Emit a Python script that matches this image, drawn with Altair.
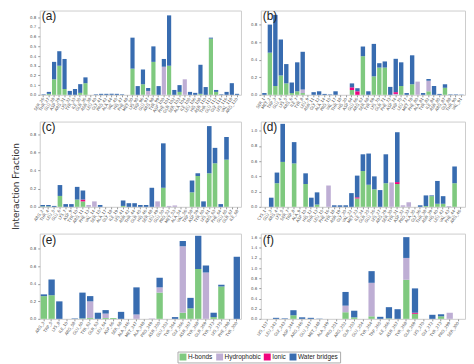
import altair as alt
import pandas as pd

TYPES = ["H-bonds", "Hydrophobic", "Ionic", "Water bridges"]
COLORS = ["#7fc97f", "#beaed4", "#f0027f", "#386cb0"]

# ---------------- panel (a) ----------------
a_res = ["SER_26", "THR_27", "GLU_28", "ASP_29", "ARG_31", "LYS_32", "TYR_33", "ILE_35", "GLN_36", "ASN_38",
         "LEU_40", "GLY_41", "PRO_42", "ALA_44", "VAL_45", "HIS_47", "PHE_48", "MET_50", "LYS_95", "TRP_96",
         "GLU_97", "ARG_98", "TYR_99", "ASP_100", "PHE_101", "GLN_102", "SER_103", "ALA_104", "ILE_105", "LEU_106",
         "HIS_108", "ASN_110", "THR_112", "GLU_113", "GLY_114", "LYS_116", "VAL_118", "ARG_120"]
a_hb = [0, .01, .16, .30, .06, 0, 0, .02, .12, 0,
        0, 0, 0, 0, 0, 0, 0, .27, 0, .11,
        0, .34, 0, 0, .30, 0, .03, 0, 0, 0,
        .01, 0, .58, .03, 0, 0, 0, 0]
a_hy = [0, 0, 0, 0, 0, 0, 0, 0, 0, 0,
        0, 0, 0, 0, 0, 0, 0, 0, 0, 0,
        .04, 0, 0, .29, 0, 0, 0, .16, 0, 0,
        0, 0, 0, 0, 0, 0, 0, 0]
a_io = [0] * 38
a_wb = [.005, .02, .18, .15, .31, .04, .06, .09, .06, 0,
        .005, .01, .01, .01, .01, .005, 0, .32, .09, .15,
        .03, .16, .09, .08, .52, .05, .07, 0, .03, .02,
        .30, .08, .01, .02, .005, .03, .12, .01]

# ---------------- panel (b) ----------------
b_res = ["SER_1", "MET_2", "TRP_3", "GLU_4", "LYS_5", "ARG_6", "ILE_7", "TYR_8", "LEU_9", "ASN_11",
         "GLY_12", "ALA_14", "PRO_15", "VAL_17", "THR_18", "HIS_20", "ASP_64", "GLU_66", "ARG_67", "SER_68",
         "TYR_69", "LYS_70", "GLN_71", "PHE_73", "ASP_74", "TRP_75", "LEU_77", "MET_78", "PHE_80", "ALA_81",
         "TYR_82", "ILE_84", "ASN_85", "ARG_87", "GLY_88", "THR_90", "VAL_91"]
b_hb = [0, .48, .10, .22, .13, .02, .04, .02, 0, 0,
        0, 0, 0, 0, 0, 0, .055, 0, .44, 0,
        .21, .31, .31, 0, 0, .10, 0, .12, 0, 0,
        .04, 0, 0, .08, 0, 0, 0]
b_hy = [0, 0, 0, 0, 0, 0, 0, .04, 0, 0,
        0, 0, 0, 0, 0, 0, 0, 0, 0, 0,
        0, 0, 0, 0, .01, 0, 0, 0, .15, 0,
        .12, 0, 0, 0, 0, 0, 0]
b_io = [0, 0, 0, 0, 0, 0, 0, 0, 0, 0,
        0, 0, 0, 0, 0, 0, .03, .04, 0, 0,
        0, 0, 0, 0, .02, 0, 0, 0, 0, 0,
        0, 0, 0, 0, 0, 0, 0]
b_wb = [.02, .32, .81, .41, .22, .12, .33, .43, 0, .03,
        .04, .01, .005, .04, 0, 0, .045, .035, .11, .04,
        .37, .05, .07, .09, .38, .27, .02, .33, 0, .02,
        .02, .10, .01, .04, .005, .005, .003]

# ---------------- panel (c) ----------------
c_res = ["ARG_2", "THR_4", "LEU_5", "GLU_6", "LYS_7", "ASP_9", "TYR_10", "ARG_11", "PHE_13", "VAL_14",
         "SER_15", "ALA_17", "GLY_18", "ILE_19", "LYS_41", "ASN_42", "THR_44", "GLN_45", "HIS_46", "SER_48",
         "LEU_49", "GLU_50", "PRO_52", "MET_53", "ALA_54", "VAL_56", "TRP_58", "ASP_59", "TYR_60", "LYS_61",
         "ARG_63", "PHE_64", "GLU_65", "GLN_67", "ILE_68"]
c_hb = [.005, .005, 0, .12, 0, 0, .08, .06, 0, 0,
        0, 0, 0, 0, .01, 0, 0, 0, 0, 0,
        0, .21, 0, 0, 0, 0, .16, .34, 0, .37,
        .48, 0, .52, 0, 0]
c_hy = [0, 0, 0, 0, 0, 0, 0, 0, .02, .06,
        0, 0, 0, 0, 0, 0, 0, 0, 0, 0,
        .06, 0, .01, .015, 0, 0, 0, 0, 0, 0,
        0, 0, 0, 0, 0]
c_io = [0, 0, 0, 0, 0, 0, 0, .02, 0, 0,
        0, 0, 0, 0, 0, 0, 0, 0, 0, 0,
        0, 0, 0, 0, 0, 0, 0, 0, 0, 0,
        0, 0, 0, 0, 0]
c_wb = [.015, .015, .01, .12, .03, .03, .14, .10, 0, 0,
        .02, 0, 0, 0, .06, .04, .04, .02, .02, .21,
        0, .49, 0, 0, 0, 0, .13, .03, .06, .52,
        .17, .03, .25, 0, 0]

# ---------------- panel (d) ----------------
d_res = ["CYS_1", "GLU_3", "ARG_4", "LYS_5", "SER_7", "TRP_8", "ALA_9", "ASP_10", "HIS_12", "THR_13",
         "LEU_15", "PHE_16", "TYR_18", "ASN_19", "GLY_20", "VAL_22", "MET_23", "ILE_24", "GLN_25", "GLU_26",
         "LYS_27", "ARG_29", "SER_30", "TYR_31", "ASP_32", "PRO_33", "ALA_35", "GLY_36", "THR_38", "ASN_39",
         "HIS_40", "LEU_42", "VAL_43", "PHE_44", "ARG_46"]
d_hb = [0, 0, .31, .59, 0, .57, 0, .30, 0, .03,
        0, 0, 0, 0, 0, 0, .11, .47, .29, .23,
        0, .31, 0, .30, 0, 0, 0, 0, .01, .14,
        .04, .04, 0, .31, 0]
d_hy = [0, 0, 0, 0, 0, 0, 0, 0, 0, 0,
        0, .28, 0, 0, 0, 0, 0, 0, 0, 0,
        0, 0, .32, 0, .02, .06, 0, 0, 0, 0,
        0, 0, .01, 0, 0]
d_io = [0, 0, 0, 0, 0, 0, 0, 0, 0, 0,
        0, 0, 0, 0, 0, 0, .015, 0, 0, 0,
        0, 0, 0, .025, 0, 0, 0, 0, 0, 0,
        0, 0, 0, 0, 0]
d_wb = [0, .12, .14, .50, 0, .28, 0, .14, .12, .16,
        0, 0, .02, .02, .02, .18, .285, .22, .41, .17,
        .22, .38, 0, .655, 0, 0, 0, .02, .14, .01,
        .30, .10, 0, .22, 0]

# ---------------- panel (e) ----------------
e_res = ["ARG_3", "TRP_5", "LYS_8", "ILE_10", "ARG_58", "GLU_60", "TYR_62", "GLN_63", "LEU_64", "ASP_66",
         "SER_68", "ALA_246", "MET_247", "ALA_248", "PRO_249", "ASN_250", "GLU_252", "TYR_264", "GLY_266",
         "ASN_267", "TYR_268", "GLN_269", "TYR_273", "LYS_275", "PHE_298", "TYR_300"]
e_hb = [.26, .27, 0, 0, 0, .005, .01, 0, .01, .01,
        0, 0, 0, 0, 0, .30, 0, 0, .07, .12,
        .57, 0, .02, .37, 0, 0]
e_hy = [0, 0, 0, 0, 0, 0, .19, 0, .05, 0,
        0, 0, .05, 0, .005, .06, 0, 0, .76, 0,
        0, .53, 0, 0, 0, 0]
e_io = [0] * 26
e_wb = [.02, .18, .20, 0, .005, .295, .06, .07, .04, 0,
        .08, 0, .31, 0, 0, .11, 0, .02, .06, .12,
        .38, .08, .05, .02, 0, .71]

# ---------------- panel (f) ----------------
f_res = ["LYS_157", "LEU_242", "GLY_243", "ASP_244", "ARG_246", "GLU_247", "MET_248", "ALA_249", "PRO_251",
         "ARG_252", "GLN_253", "GLU_254", "TYR_264", "TRP_265", "ILE_266", "ASN_267", "TYR_268", "GLN_269",
         "LYS_270", "GLY_272", "TYR_273", "PRO_299", "SER_300"]
f_hb = [0, 0, 0, .07, 0, 0, 0, 0, 0, .13,
        .03, 0, .05, 0, .01, 0, .77, .10, 0, 0,
        .05, 0, 0]
f_hy = [0, 0, 0, 0, 0, 0, 0, 0, 0, .13,
        0, 0, .66, 0, 0, 0, .43, 0, 0, 0,
        0, .12, 0]
f_io = [0, 0, 0, 0, 0, 0, 0, 0, 0, 0,
        0, 0, 0, 0, 0, 0, 0, .02, 0, 0,
        0, 0, 0]
f_wb = [0, .02, .01, .10, .03, .02, .005, 0, 0, .27,
        .13, 0, .23, .04, .22, .19, .41, .48, 0, .08,
        .04, 0, 0]

TICK_FONT = "DejaVu Sans"


def make_df(res, hb, hy, io, wb):
    rows = []
    for i, r in enumerate(res):
        for k, (t, arr) in enumerate(zip(TYPES, [hb, hy, io, wb])):
            rows.append({"res": r, "type": t, "val": arr[i], "ord": k})
    return pd.DataFrame(rows)


def panel(label, res, hb, hy, io, wb, ymax, ticks, width, height, pin, pout):
    df = make_df(res, hb, hy, io, wb)
    bars = alt.Chart(df).mark_bar().encode(
        x=alt.X("res:N", sort=res, title=None,
                scale=alt.Scale(paddingInner=pin, paddingOuter=pout),
                axis=alt.Axis(labelAngle=305, labelFontSize=4, labelFont=TICK_FONT,
                              labelColor="#555", labelPadding=1, tickSize=2,
                              tickColor="#999", domain=False)),
        y=alt.Y("val:Q", stack="zero", title=None,
                scale=alt.Scale(domain=[0, ymax], nice=False, zero=True),
                axis=alt.Axis(values=ticks, format=".1f", grid=False, domain=False,
                              labelFontSize=4, labelFont=TICK_FONT, labelColor="#555",
                              labelPadding=2, tickSize=2, tickColor="#999")),
        color=alt.Color("type:N", scale=alt.Scale(domain=TYPES, range=COLORS),
                        legend=alt.Legend(title=None, orient="none", direction="horizontal",
                                          legendX=139, legendY=344,
                                          symbolType="square", symbolSize=49,
                                          symbolStrokeWidth=0, labelFontSize=6.5,
                                          labelFont="Liberation Sans", labelColor="#222",
                                          labelOffset=1.5, columnPadding=3, padding=2,
                                          strokeColor="#aaa")),
        order=alt.Order("ord:Q"),
    )
    txt = alt.Chart(pd.DataFrame({"t": [label]})).mark_text(
        align="left", baseline="top", fontSize=12, font="Liberation Sans", color="#222"
    ).encode(text="t:N", x=alt.value(2), y=alt.value(1))
    return alt.layer(bars, txt).properties(width=width, height=height)


pa = panel("(a)", a_res, a_hb, a_hy, a_io, a_wb, 0.87,
           [0, .1, .2, .3, .4, .5, .6, .7, .8], 203, 85, 0.2, 0.35)
pb = panel("(b)", b_res, b_hb, b_hy, b_io, b_wb, 0.96,
           [0, .2, .4, .6, .8], 206, 85, 0.2, 0.26)
pc = panel("(c)", c_res, c_hb, c_hy, c_io, c_wb, 0.94,
           [0, .2, .4, .6, .8], 203, 86, 0.2, 0.12)
pd_ = panel("(d)", d_res, d_hb, d_hy, d_io, d_wb, 1.12,
            [0, .2, .4, .6, .8, 1.0], 206, 86, 0.2, 0.42)
pe = panel("(e)", e_res, e_hb, e_hy, e_io, e_wb, 0.975,
           [0, .2, .4, .6, .8], 203, 86, 0.18, 0.13)
pf = panel("(f)", f_res, f_hb, f_hy, f_io, f_wb, 1.68,
           [0, .2, .4, .6, .8, 1.0, 1.2, 1.4, 1.6], 206, 86, 0.28, 0.4)

chart = alt.concat(pa, pb, pc, pd_, pe, pf, columns=2,
                   spacing={"row": 27, "column": 20}, bounds="flush").properties(
    title=alt.TitleParams("Interaction Fraction", orient="left", anchor="middle",
                          fontSize=9, font="DejaVu Sans", fontWeight="normal",
                          color="#333", offset=8),
    padding={"left": 4, "top": 0, "right": 0, "bottom": 0},
).configure_view(stroke="#cccccc", strokeWidth=1)

chart.save("out.html", embed_options={"renderer": "svg", "actions": False})
